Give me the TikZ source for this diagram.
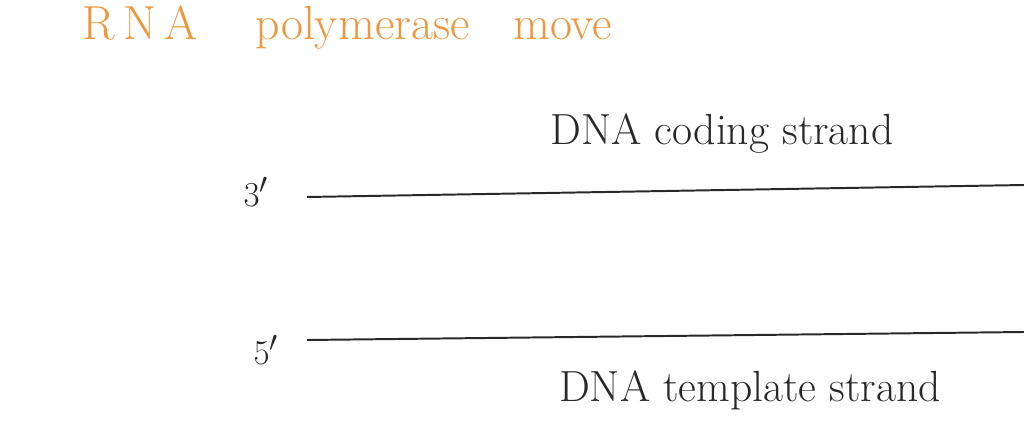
\documentclass[tikz,border=0pt]{standalone}
\usepackage{tikz}
\usepackage{xcolor}
\usetikzlibrary{positioning}
\definecolor{pen-orange}{RGB}{236,152,62}
\definecolor{pen-black}{RGB}{40,40,40}

\begin{document}
\begin{tikzpicture}
[
x=0.025cm, y=-0.025cm,
strand/.style={pen-black, line width=1.4pt},
text-a/.style={pen-black, font=\fontsize{31}{34}\selectfont},
text-b/.style={pen-orange, font=\fontsize{34}{38}\selectfont},
end-lb/.style={pen-black, font=\fontsize{30}{34}\selectfont}
]
\useasboundingbox [fill=white] (0,0) rectangle (1024,432);

\coordinate (coding-a)   at (307,197);
\coordinate (coding-b)   at (1024,185);
\coordinate (template-a) at (307,340);
\coordinate (template-b) at (1024,332);

\node (title)       [text-b, anchor=base west] at (78,40)  {R\,N\,A \ \ \ polymerase \ \ move};
\node (coding-lb)   [text-a]               at (722,134) {DNA coding strand};
\node (template-lb) [text-a]               at (750,390) {DNA template strand};
\node (end-3-id)    [end-lb]               at (256,192) {$3'$};
\node (end-5-id)    [end-lb]               at (266,350) {$5'$};

\draw [strand] (coding-a) -- (coding-b);
\draw [strand] (template-a) -- (template-b);

\end{tikzpicture}
\end{document}
